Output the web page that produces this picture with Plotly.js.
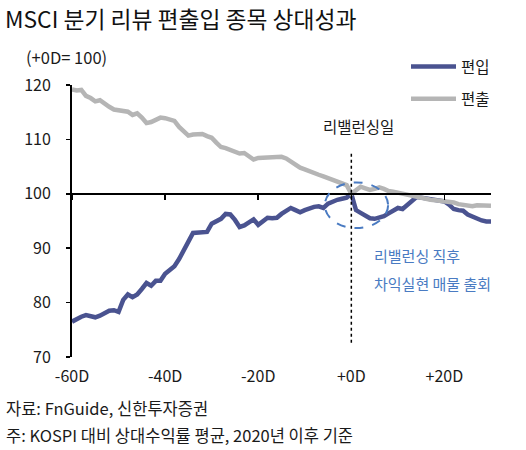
<!DOCTYPE html>
<html>
<head>
<meta charset="utf-8">
<script src="https://cdn.plot.ly/plotly-3.0.1.min.js"></script>
<style>html,body{margin:0;padding:0;background:#fff;}#chart{width:526px;height:450px;}</style>
</head>
<body>
<div id="chart"></div>
<script>
// Days relative to rebalancing (-60D .. +30D)
const days = [];
for (let d = -60; d <= 30; d++) days.push(d);

// 편입 (index inclusion) relative performance, +0D = 100
const inclusion = [
  76.5, 77.0, 77.4, 77.7, 77.5, 77.3, 77.6, 78.0, 78.5, 78.6,
  78.3, 80.5, 81.5, 81.0, 81.5, 82.5, 83.6, 83.1, 84.0, 84.0,
  85.3, 86.0, 86.7, 88.0, 89.8, 91.2, 92.8, 92.9, 92.8, 93.0,
  94.5, 95.0, 95.4, 96.3, 96.2, 95.2, 93.9, 94.2, 94.8, 95.3,
  94.3, 95.0, 95.6, 95.5, 95.6, 96.3, 96.8, 97.4, 97.0, 96.6,
  97.0, 97.4, 97.6, 97.7, 97.4, 98.2, 98.6, 98.9, 99.1, 99.3,
  100.0, 97.0, 96.5, 96.0, 95.5, 95.4, 95.6, 95.9, 96.4, 97.0,
  97.4, 97.2, 98.0, 98.7, 99.4, 99.3, 99.2, 99.0, 98.8, 98.7,
  98.6, 98.0, 97.2, 97.0, 96.9, 96.2, 95.8, 95.3, 95.1, 94.9,
  94.9
];

// 편출 (index exclusion) relative performance, +0D = 100
const exclusion = [
  119.2, 119.0, 119.1, 118.0, 117.6, 117.0, 117.2, 116.5, 116.0, 115.5,
  115.3, 115.2, 115.1, 114.5, 114.8, 114.0, 113.0, 113.2, 113.6, 114.0,
  113.9, 113.7, 113.4, 112.3, 111.5, 110.7, 110.9, 111.0, 111.0, 110.6,
  110.3, 109.4, 108.6, 108.4, 108.1, 107.6, 107.4, 107.5, 106.9, 106.3,
  106.6, 106.6, 106.6, 106.6, 106.6, 106.8, 106.5, 105.9, 105.4, 104.8,
  104.5, 104.1, 103.8, 103.5, 103.2, 102.9, 102.6, 102.4, 102.1, 101.6,
  100.0, 100.6, 101.3, 101.0, 100.7, 100.9, 101.2, 100.9, 100.5, 100.4,
  100.2, 100.1, 99.8, 99.5, 99.3, 99.1, 99.1, 98.9, 98.8, 98.7,
  98.6, 98.6, 98.4, 98.1, 98.0, 97.8, 97.7, 97.9, 97.9, 97.8,
  97.8
];

const seriesNames = ['편입', '편출'];
const xTickVals = [-60, -40, -20, 0, 20];
const xTickText = ['-60D', '-40D', '-20D', '+0D', '+20D'];
const yTickVals = [70, 80, 90, 100, 110, 120];
const rebalanceDay = 0;

const FONT = '"Noto Sans CJK KR", "Noto Sans", sans-serif';
const NAVY = '#4a5390';
const GREY = '#b5b5b5';
const ANNO_BLUE = '#4a7bc2';

const traces = [
  {x: days, y: inclusion, name: seriesNames[0], type: 'scatter', mode: 'lines',
   line: {color: NAVY, width: 4.5}, legendgroup: 'a', hoverinfo: 'skip'},
  {x: days, y: exclusion, name: seriesNames[1], type: 'scatter', mode: 'lines',
   line: {color: GREY, width: 4.5}, legendgroup: 'b', hoverinfo: 'skip'},
  {x: [null], y: [null], xaxis: 'x2', yaxis: 'y', showlegend: false, hoverinfo: 'skip', mode: 'lines'}
];

const layout = {
  width: 526, height: 450,
  margin: {l: 72, r: 35, t: 85, b: 93, autoexpand: false},
  paper_bgcolor: '#fff', plot_bgcolor: 'rgba(0,0,0,0)',
  font: {family: FONT, size: 15, color: '#1a1a1a'},
  title: {text: 'MSCI 분기 리뷰 편출입 종목 상대성과', xref: 'container', yref: 'container',
          x: 5/526, xanchor: 'left', y: 1 - 20/450, yanchor: 'middle',
          font: {family: FONT, size: 22.8, color: '#111'}},
  showlegend: true,
  legend: {xref: 'container', yref: 'container', x: 406/526, xanchor: 'left',
           y: 1 - 50/450, yanchor: 'top', traceorder: 'grouped', tracegroupgap: 9,
           itemwidth: 45, font: {family: FONT, size: 15.5, color: '#1a1a1a'}, bgcolor: 'rgba(0,0,0,0)'},
  xaxis: {range: [-60, 30], anchor: 'free', position: 0.6, showline: true, linecolor: '#000', linewidth: 2,
          ticks: 'outside', ticklen: 5, tickwidth: 1.5, tickcolor: '#000', tickvals: xTickVals,
          showticklabels: false, showgrid: false, zeroline: false, fixedrange: true},
  xaxis2: {range: [-60, 30], overlaying: 'x', anchor: 'y', side: 'bottom', showline: false, ticks: '',
           tickvals: xTickVals, ticktext: xTickText, showgrid: false, zeroline: false,
           ticklabelstandoff: 8, tickfont: {family: FONT, size: 16, color: '#1a1a1a'}},
  yaxis: {range: [70, 120], showline: true, linecolor: '#000', linewidth: 2, ticks: 'outside', ticklen: 4,
          tickwidth: 1.5, tickcolor: '#000', tickvals: yTickVals, showgrid: false, zeroline: false,
          ticklabelstandoff: 12, tickfont: {family: FONT, size: 16, color: '#1a1a1a'}},
  shapes: [
    {type: 'line', xref: 'x', yref: 'y', x0: rebalanceDay, x1: rebalanceDay, y0: 72.6, y1: 107.5,
     line: {color: '#000', width: 1.5, dash: 'dot'}},
    {type: 'circle', xref: 'x', yref: 'y', x0: -5.7, x1: 7.9, y0: 93.7, y1: 102.1,
     line: {color: ANNO_BLUE, width: 2, dash: 'dash'}}
  ],
  annotations: [
    {text: '(+0D= 100)', xref: 'paper', yref: 'paper', x: -0.115, y: 1.104, xanchor: 'left', yanchor: 'middle',
     showarrow: false, font: {size: 16.5, color: '#1a1a1a'}},
    {text: '리밸런싱일', xref: 'x', yref: 'y', x: 1.5, y: 112.5, xanchor: 'center', yanchor: 'middle',
     showarrow: false, font: {size: 15.5, color: '#1a1a1a'}},
    {text: '리밸런싱 직후', xref: 'x', yref: 'y', x: 4.5, y: 88.6, xanchor: 'left', yanchor: 'middle',
     showarrow: false, font: {size: 15, color: ANNO_BLUE}},
    {text: '차익실현 매물 출회', xref: 'x', yref: 'y', x: 4.5, y: 83.6, xanchor: 'left', yanchor: 'middle',
     showarrow: false, font: {size: 15, color: ANNO_BLUE}},
    {text: '자료: FnGuide, 신한투자증권', xref: 'paper', yref: 'paper', x: -0.163, y: -0.188,
     xanchor: 'left', yanchor: 'middle', showarrow: false, font: {size: 16.5, color: '#1a1a1a'}},
    {text: '주: KOSPI 대비 상대수익률 평균, 2020년 이후 기준', xref: 'paper', yref: 'paper', x: -0.163, y: -0.287,
     xanchor: 'left', yanchor: 'middle', showarrow: false, font: {size: 16.5, color: '#1a1a1a'}}
  ]
};

Plotly.newPlot('chart', traces, layout, {staticPlot: true, displayModeBar: false});
</script>
</body>
</html>
